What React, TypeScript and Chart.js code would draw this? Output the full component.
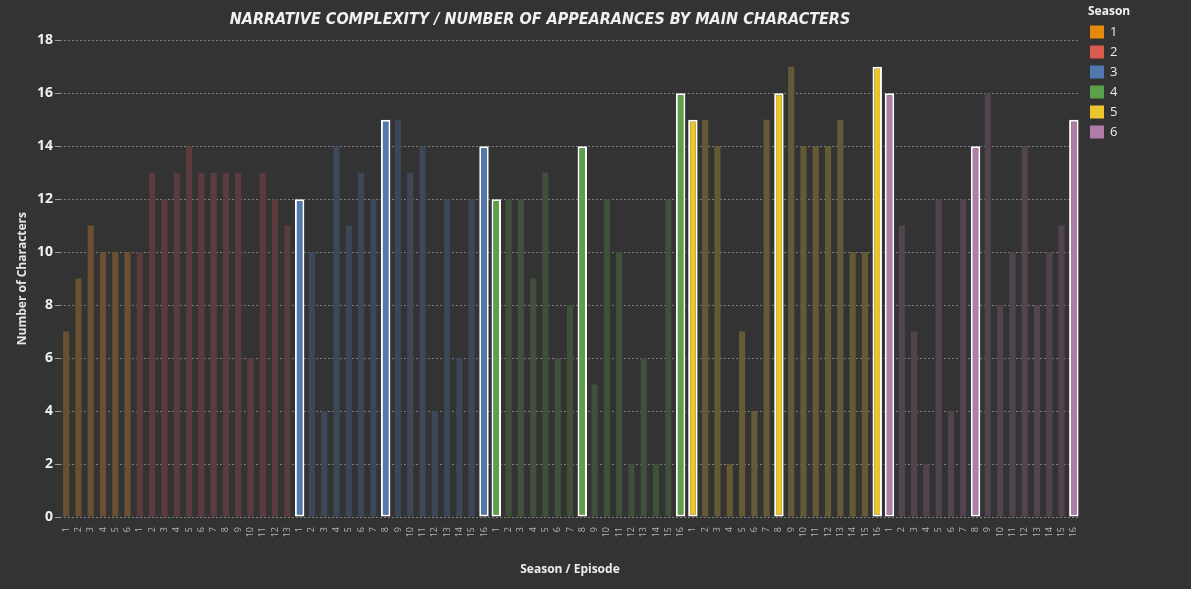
import React, { useEffect, useRef } from "react";
import { Chart, registerables } from "chart.js";

Chart.register(...registerables);

// Number of main characters appearing in each episode, grouped by season
const seasonNames = ["1", "2", "3", "4", "5", "6"];
const season1 = [7, 9, 11, 10, 10, 10];
const season2 = [10, 13, 12, 13, 14, 13, 13, 13, 13, 6, 13, 12, 11];
const season3 = [12, 10, 4, 14, 11, 13, 12, 15, 15, 13, 14, 4, 12, 6, 12, 14];
const season4 = [12, 12, 12, 9, 13, 6, 8, 14, 5, 12, 10, 2, 6, 2, 12, 16];
const season5 = [15, 15, 14, 2, 7, 4, 15, 16, 17, 14, 14, 14, 15, 10, 10, 17];
const season6 = [16, 11, 7, 2, 12, 4, 12, 14, 16, 8, 10, 14, 8, 10, 11, 15];
const seasonValues = [season1, season2, season3, season4, season5, season6];

// Episodes emphasised in full colour
const highlightSeasons = [3, 4, 5, 6];
const highlightEpisodes = [1, 8, 16];

const yTickValues = [0, 2, 4, 6, 8, 10, 12, 14, 16, 18];

const seasonColors = ["#E8890C", "#DA5A4F", "#5179B0", "#5CA14A", "#EBC62C", "#B07DA8"];
const seasonDimColors = ["#6A5030", "#5B3B3D", "#3C4758", "#3F503B", "#645A35", "#52444F"];

const BG = "#333333";
const UI_FONT = "'Open Sans', 'Noto Sans', sans-serif";

const labels: string[] = [];
const dimData: (number | null)[] = [];
const highlightData: (number | null)[] = [];
const dimColors: string[] = [];
const highlightColors: string[] = [];

seasonValues.forEach((values, s) => {
  values.forEach((v, e) => {
    labels.push(String(e + 1));
    const hi = highlightSeasons.includes(s + 1) && highlightEpisodes.includes(e + 1);
    dimData.push(hi ? null : v);
    highlightData.push(hi ? v : null);
    dimColors.push(seasonDimColors[s]);
    highlightColors.push(seasonColors[s]);
  });
});

const backgroundPlugin = {
  id: "darkBackground",
  beforeDraw(chart: any) {
    const { ctx, width, height } = chart;
    ctx.save();
    ctx.fillStyle = BG;
    ctx.fillRect(0, 0, width, height);
    ctx.restore();
  },
};

const seasonLegendPlugin = {
  id: "seasonLegend",
  afterDraw(chart: any) {
    const ctx = chart.ctx;
    const left = chart.chartArea.right + 10;
    ctx.save();
    ctx.textBaseline = "middle";
    ctx.textAlign = "left";
    ctx.fillStyle = "#f2f2f2";
    ctx.font = `bold 12px ${UI_FONT}`;
    ctx.fillText("Season", left - 2, 12);
    seasonNames.forEach((name, i) => {
      const y = 32 + i * 20;
      ctx.fillStyle = seasonColors[i];
      ctx.fillRect(left, y - 6.5, 14, 13);
      ctx.fillStyle = "#ececec";
      ctx.font = `13px ${UI_FONT}`;
      ctx.fillText(name, left + 20, y);
    });
    ctx.restore();
  },
};

export default function App() {
  const canvasRef = useRef<HTMLCanvasElement | null>(null);

  useEffect(() => {
    if (!canvasRef.current) return;
    const chart = new Chart(canvasRef.current, {
      type: "bar",
      data: {
        labels,
        datasets: [
          {
            label: "Episodes",
            data: dimData,
            backgroundColor: dimColors,
            borderWidth: 0,
            grouped: false,
            categoryPercentage: 1,
            barPercentage: 0.5,
          } as any,
          {
            label: "Highlighted episodes",
            data: highlightData,
            backgroundColor: highlightColors,
            borderColor: "#ffffff",
            borderWidth: 2,
            borderSkipped: false,
            grouped: false,
            categoryPercentage: 1,
            barPercentage: 0.77,
          } as any,
        ],
      },
      options: {
        responsive: false,
        maintainAspectRatio: false,
        animation: false,
        layout: { padding: { top: 0, right: 111, bottom: 0, left: 0 } },
        plugins: {
          legend: { display: false },
          tooltip: { enabled: false },
          title: {
            display: true,
            text: "NARRATIVE COMPLEXITY / NUMBER OF APPEARANCES BY MAIN CHARACTERS",
            color: "#f0f0f0",
            font: {
              family: "'DejaVu Sans Condensed', 'Liberation Sans Narrow', 'DejaVu Sans', sans-serif",
              size: 16,
              weight: "bold",
              style: "italic",
            },
            padding: { top: 10, bottom: 11 },
          },
        },
        scales: {
          x: {
            grid: { display: false },
            border: { display: false },
            ticks: {
              autoSkip: false,
              minRotation: 90,
              maxRotation: 90,
              color: "#b4b4b4",
              padding: 2,
              font: { family: UI_FONT, size: 9 },
            },
            title: {
              display: true,
              text: "Season / Episode",
              color: "#ededed",
              font: { family: UI_FONT, size: 12, weight: "bold" },
              padding: { top: 4, bottom: 12 },
            },
            afterFit(scale: any) {
              scale.height = 72;
            },
          },
          y: {
            min: 0,
            max: 18,
            afterBuildTicks(scale: any) {
              scale.ticks = yTickValues.map((v) => ({ value: v }));
            },
            grid: {
              color: "rgba(190,190,190,0.55)",
              lineWidth: 1,
              tickLength: 5,
              tickColor: "rgba(200,200,200,0.7)",
              tickBorderDash: [],
            } as any,
            border: { display: false, dash: [2, 2] },
            ticks: {
              color: "#f0f0f0",
              padding: 2,
              font: { family: UI_FONT, size: 14, weight: "bold" },
            },
            title: {
              display: true,
              text: "Number of Characters",
              color: "#e6e6e6",
              font: { family: UI_FONT, size: 12, weight: "bold" },
              padding: { top: 15, bottom: 0 },
            },
            afterFit(scale: any) {
              scale.width = 60;
            },
          },
        },
      },
      plugins: [backgroundPlugin, seasonLegendPlugin],
    });
    return () => chart.destroy();
  }, []);

  return (
    <div
      style={{
        position: "fixed",
        left: 0,
        top: 0,
        width: 1191,
        height: 589,
        background: BG,
      }}
    >
      <canvas ref={canvasRef} width={1191} height={589} style={{ display: "block" }} />
    </div>
  );
}
